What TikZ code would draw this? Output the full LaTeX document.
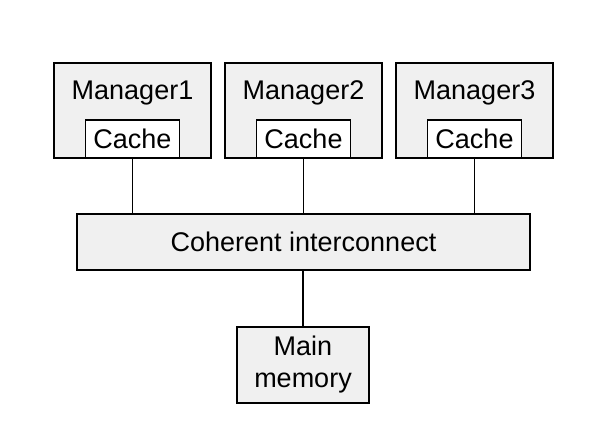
\documentclass[tikz,border=0pt]{standalone}
\usepackage{fontspec}
\setmainfont{Liberation Sans}
\definecolor{boxgray}{HTML}{F0F0F0}
\tikzset{
	box/.style={draw, line width=0.75pt, fill=boxgray, inner sep=0pt},
	cachebox/.style={draw, line width=0.75pt, fill=white, inner sep=0pt,
		minimum width=47pt, minimum height=19pt},
	link/.style={line width=0.75pt},
}
\begin{document}
\begin{tikzpicture}[x=0.5pt, y=-0.5pt, font=\fontsize{13.5}{16}\selectfont]
	\useasboundingbox (0,0) rectangle (598,442);
	% managers with their caches
	\foreach \i/\x in {1/132.5, 2/303.5, 3/474.5} {
		\node (m\i) [box, minimum width=78.5pt, minimum height=47.5pt] at (\x,110.5) {};
		\node (m\i name) at (\x,93) {Manager\i};
		\node (c\i) [cachebox, anchor=south] at (m\i.south) {Cache};
	}
	% interconnect and memory
	\node (bus) [box, minimum width=226.5pt, minimum height=28pt] at (303.5,242) {Coherent interconnect};
	\node (mem) [box, minimum width=66pt, minimum height=38pt, align=center] at (303,365) {Main\\memory};
	\foreach \i in {1,2,3}
		\draw [link] (c\i.south) -- (c\i.south |- bus.north);
	\draw [link] (bus.south -| mem.north) -- (mem.north);
\end{tikzpicture}
\end{document}
